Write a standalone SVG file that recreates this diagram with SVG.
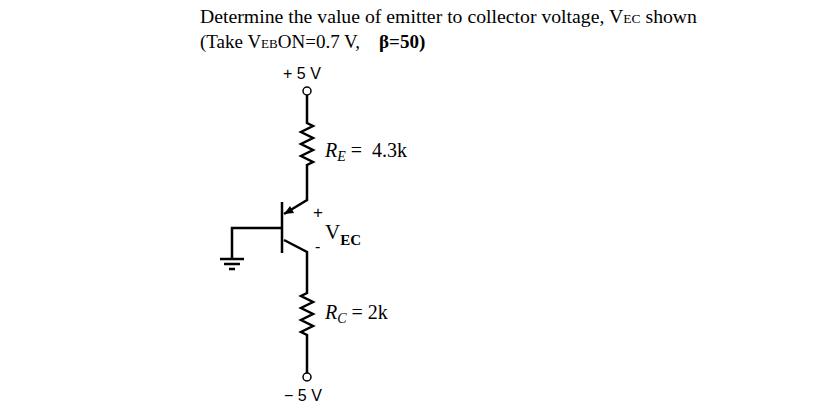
<svg xmlns="http://www.w3.org/2000/svg" width="823" height="417" viewBox="0 0 823 417">
<style>
.w{fill:none;stroke:#000;stroke-width:2.5;stroke-linejoin:miter}
.t{font-family:"Liberation Serif",serif;fill:#000}
.s{font-family:"Liberation Sans",sans-serif;fill:#000}
</style>
<rect width="823" height="417" fill="#fff"/>
<text class="t" x="200" y="23" font-size="19" textLength="497" lengthAdjust="spacingAndGlyphs">Determine the value of emitter to collector voltage, V<tspan font-size="13">EC</tspan> shown</text>
<text class="t" x="200" y="48" font-size="19" xml:space="preserve">(Take V<tspan font-size="13">EB</tspan>ON=0.7 V,    <tspan font-weight="bold">β=50)</tspan></text>
<g id="connectors">
<path class="w" d="M307,95 V123 l6,3 l-12,6 l12,6 l-12,6 l12,6 l-12,6 l12,6 l-6,3 V200 L284,214"/>
<path class="w" d="M307,373 V335 l-6,-3 l12,-6 l-12,-6 l12,-6 l-12,-6 l12,-6 l-12,-6 l6,-3 V252 L284,240"/>
<path class="w" d="M282,202 V253 M282,228 H232 V258"/>
<path class="w" d="M220,259 H244 M224,264 H240 M229,269 H235" stroke-width="2"/>
<path d="M284,214 l10,-1 l-4,-7 z" fill="#000"/>
</g>
<g id="vplus"><circle cx="307" cy="91" r="4" fill="#fff" stroke="#000" stroke-width="1.5"/><text class="s" x="283" y="79" font-size="16">+ 5 V</text></g>
<g id="vminus"><circle cx="307" cy="377" r="4" fill="#fff" stroke="#000" stroke-width="1.5"/><text class="s" x="284" y="401" font-size="16">− 5 V</text></g>
<g id="RE"><text class="t" x="325" y="157" font-size="20" xml:space="preserve"><tspan font-style="italic">R<tspan font-size="14" dy="4">E</tspan></tspan><tspan dy="-4"> =  4.3k</tspan></text></g>
<g id="RC"><text class="t" x="325" y="319" font-size="20" xml:space="preserve"><tspan font-style="italic">R<tspan font-size="14" dy="4">C</tspan></tspan><tspan dy="-4"> = 2k</tspan></text></g>
<g id="VEC"><text class="s" x="313" y="218" font-size="17">+</text><text class="t" x="325" y="239" font-size="21">V<tspan font-size="15" font-weight="bold" dy="6">EC</tspan></text><text class="s" x="315" y="252" font-size="16">-</text></g>
</svg>
